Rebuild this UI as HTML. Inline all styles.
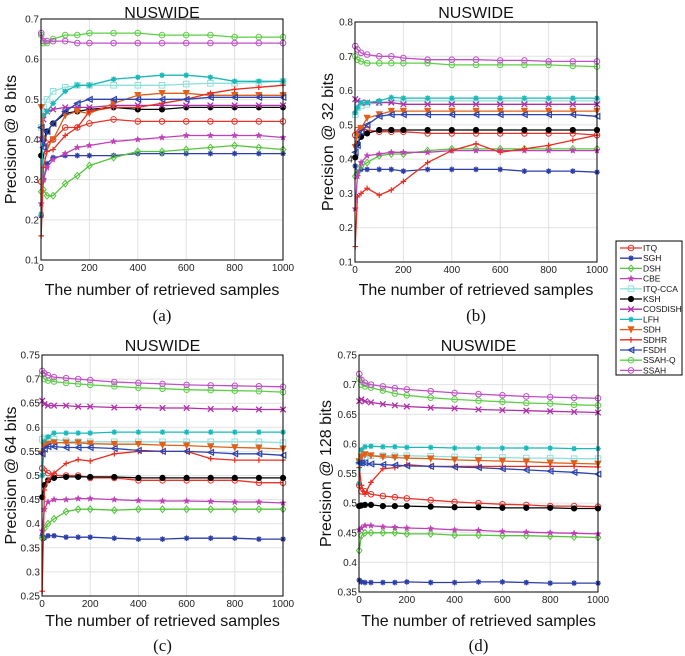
<!DOCTYPE html>
<html><head><meta charset="utf-8"><style>
html,body{margin:0;padding:0;background:#fff}
svg{display:block;font-family:"Liberation Sans",sans-serif}
</style></head><body>
<svg id="fig" width="685" height="656" viewBox="0 0 685 656" xmlns="http://www.w3.org/2000/svg"></svg>
<script>
const xs = [1,10,25,50,100,150,200,300,400,500,600,700,800,900,1000];
const seriesNames = ["ITQ","SGH","DSH","CBE","ITQ-CCA","KSH","COSDISH","LFH","SDH","SDHR","FSDH","SSAH-Q","SSAH"];
const colors = ["#e8322a","#2c3ea8","#55c43c","#c040b8","#8ee0dc","#000000","#b030a8","#1ab8b8","#e0601a","#e82c20","#2c44b0","#5ccf46","#c050c8"];
const markers = ["o","*","d","star","s","dot","x","*","v","+","<","o","o"];
const ticksA = [0.1,0.2,0.3,0.4,0.5,0.6,0.7];
const ticksB = [0.1,0.2,0.3,0.4,0.5,0.6,0.7,0.8];
const ticksC = [0.25,0.3,0.35,0.4,0.45,0.5,0.55,0.6,0.65,0.7,0.75];
const ticksD = [0.35,0.4,0.45,0.5,0.55,0.6,0.65,0.7,0.75];
const xTicks = [0,200,400,600,800,1000];
const dataA = [
[0.295,0.36,0.39,0.40,0.43,0.43,0.44,0.45,0.445,0.445,0.445,0.445,0.445,0.445,0.445],
[0.21,0.30,0.34,0.355,0.36,0.36,0.36,0.36,0.365,0.365,0.365,0.365,0.365,0.365,0.365],
[0.27,0.275,0.26,0.26,0.29,0.31,0.335,0.355,0.37,0.37,0.375,0.38,0.385,0.38,0.375],
[0.24,0.30,0.33,0.35,0.365,0.38,0.385,0.395,0.40,0.405,0.41,0.41,0.41,0.41,0.405],
[0.43,0.48,0.50,0.52,0.53,0.535,0.535,0.535,0.535,0.535,0.538,0.54,0.54,0.542,0.545],
[0.36,0.40,0.42,0.44,0.465,0.47,0.475,0.48,0.475,0.475,0.48,0.48,0.48,0.48,0.48],
[0.40,0.45,0.47,0.475,0.48,0.48,0.48,0.485,0.485,0.485,0.485,0.485,0.485,0.485,0.485],
[0.215,0.46,0.47,0.49,0.52,0.535,0.535,0.55,0.555,0.56,0.56,0.555,0.545,0.545,0.545],
[0.48,0.40,0.38,0.40,0.46,0.47,0.465,0.49,0.51,0.515,0.515,0.51,0.51,0.51,0.51],
[0.16,0.33,0.37,0.375,0.41,0.43,0.47,0.48,0.48,0.49,0.50,0.515,0.525,0.53,0.535],
[0.43,0.38,0.42,0.44,0.47,0.49,0.50,0.50,0.50,0.50,0.50,0.505,0.505,0.505,0.505],
[0.66,0.64,0.64,0.65,0.66,0.66,0.665,0.665,0.665,0.66,0.66,0.66,0.655,0.655,0.655],
[0.665,0.645,0.645,0.645,0.645,0.64,0.64,0.64,0.64,0.64,0.64,0.64,0.64,0.64,0.64]];
const dataB = [
[0.47,0.485,0.49,0.485,0.48,0.48,0.48,0.475,0.475,0.475,0.475,0.475,0.475,0.475,0.47],
[0.38,0.36,0.37,0.37,0.37,0.37,0.365,0.37,0.37,0.37,0.37,0.365,0.365,0.365,0.362],
[0.35,0.36,0.38,0.39,0.41,0.415,0.415,0.425,0.43,0.43,0.43,0.43,0.43,0.43,0.43],
[0.255,0.35,0.39,0.41,0.415,0.42,0.42,0.42,0.425,0.425,0.425,0.425,0.425,0.425,0.425],
[0.53,0.55,0.555,0.56,0.565,0.57,0.57,0.57,0.57,0.57,0.57,0.57,0.57,0.57,0.57],
[0.405,0.445,0.465,0.475,0.485,0.485,0.485,0.485,0.485,0.485,0.485,0.485,0.485,0.485,0.485],
[0.575,0.57,0.565,0.565,0.565,0.565,0.56,0.56,0.56,0.56,0.56,0.56,0.56,0.56,0.56],
[0.535,0.55,0.565,0.565,0.57,0.58,0.578,0.578,0.578,0.578,0.578,0.578,0.578,0.578,0.578],
[0.435,0.47,0.49,0.52,0.53,0.54,0.54,0.54,0.54,0.54,0.54,0.54,0.54,0.54,0.54],
[0.145,0.29,0.30,0.315,0.295,0.31,0.335,0.39,0.425,0.445,0.42,0.43,0.44,0.455,0.47],
[0.42,0.44,0.48,0.50,0.525,0.53,0.53,0.53,0.53,0.53,0.53,0.53,0.53,0.53,0.525],
[0.70,0.69,0.685,0.68,0.68,0.68,0.68,0.68,0.675,0.675,0.675,0.675,0.675,0.672,0.67],
[0.73,0.72,0.71,0.705,0.70,0.70,0.695,0.69,0.69,0.69,0.688,0.688,0.685,0.685,0.685]];
const dataC = [
[0.515,0.51,0.505,0.50,0.50,0.50,0.495,0.495,0.49,0.49,0.49,0.49,0.49,0.485,0.485],
[0.375,0.37,0.375,0.375,0.372,0.372,0.372,0.37,0.368,0.368,0.37,0.37,0.37,0.368,0.368],
[0.37,0.39,0.40,0.41,0.425,0.43,0.43,0.428,0.43,0.43,0.43,0.43,0.43,0.43,0.43],
[0.385,0.43,0.445,0.45,0.45,0.452,0.452,0.45,0.448,0.447,0.447,0.446,0.445,0.445,0.443],
[0.575,0.578,0.578,0.575,0.572,0.57,0.57,0.57,0.57,0.57,0.57,0.57,0.57,0.57,0.568],
[0.455,0.48,0.49,0.495,0.497,0.497,0.497,0.497,0.495,0.495,0.495,0.495,0.495,0.495,0.495],
[0.655,0.648,0.645,0.645,0.645,0.643,0.643,0.641,0.641,0.64,0.64,0.638,0.638,0.637,0.637],
[0.50,0.57,0.58,0.588,0.588,0.588,0.588,0.59,0.59,0.59,0.59,0.59,0.59,0.59,0.59],
[0.545,0.56,0.565,0.568,0.568,0.568,0.566,0.565,0.565,0.563,0.562,0.56,0.558,0.557,0.555],
[0.26,0.47,0.49,0.505,0.525,0.533,0.53,0.545,0.55,0.55,0.55,0.535,0.532,0.532,0.532],
[0.545,0.555,0.56,0.56,0.558,0.558,0.558,0.556,0.552,0.55,0.55,0.548,0.545,0.545,0.542],
[0.71,0.70,0.697,0.695,0.692,0.69,0.688,0.685,0.682,0.68,0.678,0.677,0.676,0.675,0.673],
[0.717,0.712,0.708,0.704,0.702,0.70,0.698,0.694,0.692,0.69,0.688,0.687,0.686,0.685,0.684]];
const dataD = [
[0.53,0.52,0.52,0.515,0.512,0.51,0.508,0.505,0.502,0.50,0.498,0.497,0.495,0.495,0.494],
[0.37,0.367,0.366,0.366,0.366,0.366,0.367,0.366,0.366,0.367,0.367,0.366,0.365,0.365,0.365],
[0.42,0.445,0.45,0.45,0.45,0.45,0.448,0.448,0.446,0.446,0.445,0.445,0.444,0.443,0.442],
[0.455,0.458,0.462,0.462,0.46,0.459,0.458,0.457,0.455,0.454,0.452,0.451,0.45,0.449,0.448],
[0.57,0.575,0.578,0.58,0.58,0.58,0.58,0.579,0.578,0.577,0.577,0.576,0.576,0.575,0.575],
[0.495,0.496,0.497,0.497,0.495,0.495,0.495,0.494,0.493,0.493,0.492,0.492,0.492,0.491,0.491],
[0.672,0.675,0.672,0.67,0.667,0.665,0.663,0.661,0.66,0.658,0.657,0.656,0.655,0.654,0.653],
[0.533,0.59,0.595,0.596,0.595,0.595,0.594,0.594,0.593,0.593,0.593,0.593,0.593,0.592,0.592],
[0.57,0.578,0.582,0.58,0.578,0.577,0.576,0.575,0.573,0.572,0.571,0.57,0.568,0.567,0.566],
[0.56,0.53,0.515,0.535,0.558,0.56,0.565,0.562,0.562,0.562,0.562,0.562,0.562,0.562,0.561],
[0.568,0.568,0.568,0.566,0.565,0.564,0.563,0.562,0.561,0.56,0.558,0.556,0.554,0.552,0.549],
[0.71,0.70,0.697,0.695,0.69,0.685,0.682,0.678,0.675,0.673,0.671,0.669,0.668,0.666,0.665],
[0.718,0.708,0.703,0.70,0.697,0.694,0.692,0.689,0.686,0.684,0.682,0.68,0.679,0.678,0.677]];

const NS="http://www.w3.org/2000/svg";
const fig=document.getElementById('fig');
function mk(tag,attrs,parent){const e=document.createElementNS(NS,tag);for(const k in attrs)e.setAttribute(k,attrs[k]);(parent||fig).appendChild(e);return e;}
function marker(g,type,x,y,c){
  const r=2.8;let e;
  if(type==="o"){e=mk('circle',{cx:x,cy:y,r:r,fill:'none',stroke:c,'stroke-width':1},g);}
  else if(type==="dot"){e=mk('circle',{cx:x,cy:y,r:2.6,fill:c,stroke:c},g);}
  else if(type==="s"){e=mk('rect',{x:x-r,y:y-r,width:2*r,height:2*r,fill:'none',stroke:c,'stroke-width':1},g);}
  else if(type==="d"){e=mk('polygon',{points:`${x},${y-r-0.5} ${x+r},${y} ${x},${y+r+0.5} ${x-r},${y}`,fill:'none',stroke:c,'stroke-width':1},g);}
  else if(type==="v"){e=mk('polygon',{points:`${x-r},${y-r} ${x+r},${y-r} ${x},${y+r}`,fill:c,stroke:c,'stroke-width':1},g);}
  else if(type==="<"){e=mk('polygon',{points:`${x+r},${y-r} ${x+r},${y+r} ${x-r},${y}`,fill:'none',stroke:c,'stroke-width':1.2},g);}
  else if(type==="star"){let p=[];for(let i=0;i<10;i++){const a=-Math.PI/2+i*Math.PI/5,rr=i%2?1.4:3.3;p.push((x+rr*Math.cos(a)).toFixed(1)+","+(y+rr*Math.sin(a)).toFixed(1));}e=mk('polygon',{points:p.join(' '),fill:c,stroke:c,'stroke-width':0.5},g);}
  else if(type==="+"){e=mk('path',{d:`M${x-r} ${y}H${x+r}M${x} ${y-r}V${y+r}`,stroke:c,'stroke-width':1.2},g);}
  else if(type==="x"){e=mk('path',{d:`M${x-r} ${y-r}L${x+r} ${y+r}M${x+r} ${y-r}L${x-r} ${y+r}`,stroke:c,'stroke-width':1.3},g);}
  else {e=mk('path',{d:`M${x-r} ${y}H${x+r}M${x} ${y-r}V${y+r}M${x-2} ${y-2}L${x+2} ${y+2}M${x+2} ${y-2}L${x-2} ${y+2}`,stroke:c,'stroke-width':1.3},g);}
  
  
}
function panel(id,L,R,T,B,ticks,data,bits,ylx,titleY,xlY,capY,cap){
  const g=mk('g',{});
  
  
  const ymin=ticks[0],ymax=ticks[ticks.length-1];
  const X=v=>L+(v/1000)*(R-L);
  const Y=v=>B-(v-ymin)/(ymax-ymin)*(B-T);
  for(const t of ticks){
    const y=Y(t);
    const gl=mk('line',{x1:L,x2:R,y1:y,y2:y,stroke:'#e2e2e2','stroke-width':1},g);
    
    const tl=mk('text',{x:L-2,y:y+3.5,'text-anchor':'end','font-size':10,fill:'#222'},g);
    tl.textContent=String(parseFloat(t.toFixed(2)));
    
  }
  for(const t of xTicks){
    const x=X(t);
    const gl=mk('line',{x1:x,x2:x,y1:T,y2:B,stroke:'#e2e2e2','stroke-width':1},g);
    
    const tl=mk('text',{x:x,y:B+11,'text-anchor':'middle','font-size':10,fill:'#222'},g);
    tl.textContent=t;
    
  }
  data.forEach((vals,si)=>{
    const sg=mk('g',{},g);
    
    
    const pts=vals.map((v,i)=>X(xs[i]).toFixed(1)+","+Y(v).toFixed(1)).join(' ');
    const pl=mk('polyline',{points:pts,fill:'none',stroke:colors[si],'stroke-width':1.3},sg);
    
    vals.forEach((v,i)=>marker(sg,markers[si],X(xs[i]),Y(v),colors[si]));
  });
  const box=mk('rect',{x:L,y:T,width:R-L,height:B-T,fill:'none',stroke:'#000','stroke-width':1},g);
  
  const tt=mk('text',{x:(L+R)/2,y:titleY,'text-anchor':'middle','font-size':16,fill:'#111'},g);
  tt.textContent='NUSWIDE';
  const yl=mk('text',{x:0,y:0,'text-anchor':'middle','font-size':16,fill:'#111',transform:`translate(${ylx},${(T+B)/2}) rotate(-90)`},g);
  yl.textContent='Precision @ '+bits+' bits';
  const xl=mk('text',{x:(L+R)/2,y:xlY,'text-anchor':'middle','font-size':16,fill:'#111'},g);
  xl.textContent='The number of retrieved samples';
  const cp=mk('text',{x:(L+R)/2,y:capY,'text-anchor':'middle','font-size':17,fill:'#111','font-family':'Liberation Serif, serif'},g);
  cp.textContent=cap;
}
panel('a',41,283,19,260,ticksA,dataA,8,16,18,295,321,'(a)');
panel('b',355,597,22,262,ticksB,dataB,32,333,18,295,321,'(b)');
panel('c',42,283,355,596,ticksC,dataC,64,16,351,626,651,'(c)');
panel('d',359,598,355,592,ticksD,dataD,128,331,351,626,651,'(d)');

const lg=mk('g',{});


const lb=mk('rect',{x:616,y:241,width:66,height:134,fill:'#fff',stroke:'#000','stroke-width':1},lg);

seriesNames.forEach((n,i)=>{
  const y=248+i*10.2;
  const eg=mk('g',{},lg);
  
  
  mk('line',{x1:620,x2:642,y1:y,y2:y,stroke:colors[i],'stroke-width':1.3},eg);
  marker(eg,markers[i],631,y,colors[i]);
  const t=mk('text',{x:643,y:y+3,'font-size':8.5,fill:'#111'},eg);
  t.textContent=n;
});
</script>
</body></html>
